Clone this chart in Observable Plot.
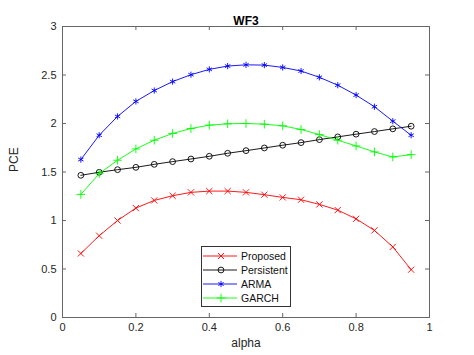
<!DOCTYPE html>
<html>
<head>
<meta charset="utf-8">
<script src="https://cdn.jsdelivr.net/npm/d3@7"></script>
<script src="https://cdn.jsdelivr.net/npm/@observablehq/plot@0.6"></script>
<style>
  body { margin: 0; background: #fff; }
  #wrap { position: relative; width: 474px; height: 355px; font-family: "Liberation Sans", Arial, sans-serif; }
  #legend { position: absolute; left: 201px; top: 246px; width: 88px; height: 57px; border: 1px solid #333; background: #fff; padding-top: 2px; box-sizing: content-box; }
  .row { height: 14px; display: flex; align-items: center; font-size: 10.5px; color: #111; }
  .row svg { margin-right: 2px; }
</style>
</head>
<body>
<div id="wrap"></div>
<script>
const alpha = [0.05,0.1,0.15,0.2,0.25,0.3,0.35,0.4,0.45,0.5,0.55,0.6,0.65,0.7,0.75,0.8,0.85,0.9,0.95];
const proposed   = [0.66,0.843,1.0,1.128,1.207,1.255,1.29,1.303,1.303,1.29,1.266,1.238,1.214,1.166,1.107,1.017,0.898,0.728,0.493];
const persistent = [1.466,1.497,1.524,1.548,1.579,1.607,1.634,1.662,1.693,1.72,1.748,1.776,1.803,1.834,1.862,1.890,1.917,1.945,1.972];
const arma       = [1.628,1.879,2.073,2.228,2.34,2.432,2.503,2.558,2.592,2.605,2.602,2.578,2.541,2.476,2.395,2.293,2.173,2.024,1.879];
const garch      = [1.269,1.483,1.621,1.738,1.828,1.897,1.948,1.983,1.997,2.0,1.993,1.976,1.938,1.886,1.828,1.769,1.707,1.655,1.679];
const seriesNames = ["Proposed","Persistent","ARMA","GARCH"];
const seriesColors = ["#ff0000","#000000","#0000ff","#00ff00"];
const seriesSymbols = ["times","circle","asterisk","plus"];
const xTicks = [0,0.2,0.4,0.6,0.8,1];
const yTicks = [0,0.5,1,1.5,2,2.5,3];
const title = "WF3", xLabel = "alpha", yLabel = "PCE";

const values = [proposed, persistent, arma, garch];
const data = [];
seriesNames.forEach((name, i) => values[i].forEach((v, j) => data.push({series: name, alpha: alpha[j], pce: v})));

const W = 474, H = 355, mL = 62, mR = 45, mT = 26, mB = 38;
const pW = W - mL - mR, pH = H - mT - mB;
const axisColor = "#666";
const fmt = d3.format("~g");
const R = 2.9;

const marks = [
  Plot.frame({stroke: axisColor}),
  Plot.tickX(xTicks, {x: d => d, stroke: axisColor, insetTop: pH - 4}),
  Plot.tickX(xTicks, {x: d => d, stroke: axisColor, insetBottom: pH - 4}),
  Plot.tickY(yTicks, {y: d => d, stroke: axisColor, insetRight: pW - 4}),
  Plot.tickY(yTicks, {y: d => d, stroke: axisColor, insetLeft: pW - 4}),
  Plot.axisX({ticks: xTicks, tickFormat: fmt, tickSize: 0, tickPadding: 6, label: null, fontSize: 11, color: "#262626"}),
  Plot.axisY({ticks: yTicks, tickFormat: fmt, tickSize: 0, tickPadding: 6, label: null, fontSize: 11, color: "#262626"}),
  Plot.text([title], {frameAnchor: "top", dy: -10, fontWeight: "bold", fontSize: 12, fill: "#000"}),
  Plot.text([xLabel], {frameAnchor: "bottom", dy: 29, fontSize: 12, fill: "#262626"}),
  Plot.text([yLabel], {frameAnchor: "left", dx: -48, rotate: -90, fontSize: 12, fill: "#262626"})
];
seriesNames.forEach((name, i) => {
  const d = data.filter(r => r.series === name);
  marks.push(Plot.line(d, {x: "alpha", y: "pce", stroke: seriesColors[i], strokeWidth: 0.9}));
  marks.push(Plot.dot(d, {x: "alpha", y: "pce", stroke: seriesColors[i], symbol: seriesSymbols[i], r: R, strokeWidth: 0.9, fill: "none"}));
});

const chart = Plot.plot({
  width: W, height: H,
  marginLeft: mL, marginRight: mR, marginTop: mT, marginBottom: mB,
  style: {fontFamily: "'Liberation Sans', Arial, sans-serif", background: "#fff"},
  x: {domain: [0, 1]},
  y: {domain: [0, 3]},
  marks
});
const wrap = document.getElementById("wrap");
wrap.appendChild(chart);

// legend
const leg = document.createElement("div");
leg.id = "legend";
const symMap = {times: d3.symbolTimes, circle: d3.symbolCircle, asterisk: d3.symbolAsterisk, plus: d3.symbolPlus};
seriesNames.forEach((name, i) => {
  const row = document.createElement("div");
  row.className = "row";
  const path = d3.symbol(symMap[seriesSymbols[i]], Math.PI * R * R)();
  row.innerHTML = `<svg width="37" height="14"><line x1="1" x2="35" y1="7" y2="7" stroke="${seriesColors[i]}" stroke-width="0.9"/><path d="${path}" transform="translate(19,7)" fill="none" stroke="${seriesColors[i]}" stroke-width="0.9"/></svg><span>${name}</span>`;
  leg.appendChild(row);
});
wrap.appendChild(leg);
</script>
</body>
</html>
